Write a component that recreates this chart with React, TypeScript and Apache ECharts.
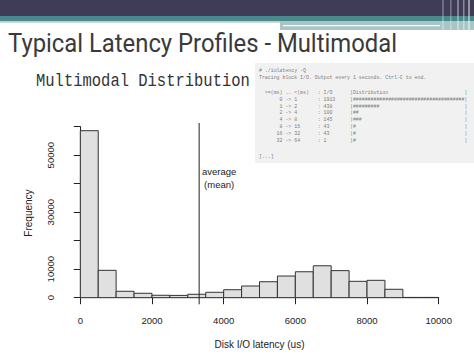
import React, { useEffect, useRef } from "react";
import * as echarts from "echarts";

// ---- histogram data (Disk I/O latency, us) ----
const binStarts = [0, 500, 1000, 1500, 2000, 2500, 3000, 3500, 4000, 4500, 5000, 5500, 6000, 6500, 7000, 7500, 8000, 8500, 9000, 9500];
const binEnds = [500, 1000, 1500, 2000, 2500, 3000, 3500, 4000, 4500, 5000, 5500, 6000, 6500, 7000, 7500, 8000, 8500, 9000, 9500, 10000];
const frequencies = [58600, 9600, 2250, 1550, 850, 800, 1200, 1900, 2800, 4100, 5600, 7600, 9100, 11200, 9500, 5750, 6100, 2950, 100, 100];
const meanLatency = 3316;
const yPlotTop = 61300; // upper edge of the plot region (frequency units)
const yHiddenTickLabels = [20000, 40000, 60000];

// ---- texts ----
const titleText = "Typical Latency Profiles - Multimodal";
const subtitleText = "Multimodal Distribution";
const xAxisTitle = "Disk I/O latency (us)";
const yAxisTitle = "Frequency";
const meanLabel = ["average", "(mean)"];

// ---- iolatency terminal output ----
const termCommand = "# ./iolatency -Q";
const termInfo = "Tracing block I/O. Output every 1 seconds. Ctrl-C to end.";
const termHeader = "  >=(ms) .. <(ms)   : I/O      |Distribution                          |";
const ioLowMs = [0, 1, 2, 4, 8, 16, 32];
const ioHighMs = [1, 2, 4, 8, 16, 32, 64];
const ioCounts = [1913, 438, 100, 145, 43, 43, 1];
const ioHashes = [38, 9, 2, 3, 1, 1, 1];
const termEllipsis = "[...]";

const X_AXIS_OFFSET = 6.6;
const Y_AXIS_OFFSET = 14;
const AXIS_FONT = '9.5px "Liberation Sans", Arial, sans-serif';

function measure(text: string, font: string): number {
  const c = document.createElement("canvas");
  const ctx = c.getContext("2d");
  if (!ctx) return 1;
  ctx.font = font;
  return ctx.measureText(text).width || 1;
}

const nb = (s: string) => s.replace(/ /g, "\u00a0");

export default function App() {
  const ref = useRef<HTMLDivElement>(null);
  useEffect(() => {
    document.body.style.margin = "0";
    if (!ref.current) return;
    const chart = echarts.init(ref.current, undefined, { renderer: "svg" });

    const histData = binStarts.map((s, i) => [s, binEnds[i], frequencies[i]]);

    const titleFont = '26px Roboto, "Open Sans", sans-serif';
    const titleScale = 389 / measure(titleText, titleFont);
    const subFont = '19px "Liberation Mono", monospace';
    const subScale = 214 / measure(subtitleText, subFont);

    const termFont = '4.9px "Liberation Mono", monospace';
    const termLines: string[] = ioLowMs.map(
      (lo, i) =>
        String(lo).padStart(8) +
        " -> " +
        String(ioHighMs[i]).padEnd(8) +
        ": " +
        String(ioCounts[i]).padEnd(9) +
        "|" +
        "#".repeat(ioHashes[i]).padEnd(38) +
        "|"
    );

    const termTexts: any[] = [
      { t: termCommand, y: 70 },
      { t: termInfo, y: 77 },
      { t: termHeader, y: 92 },
      ...termLines.map((t, i) => ({ t, y: 99.2 + i * 6.8 })),
      { t: termEllipsis, y: 156 },
    ].map((o) => ({
      type: "text",
      x: 259,
      y: o.y,
      style: { text: nb(o.t), font: termFont, fill: "#7c7c7c", verticalAlign: "middle" },
    }));

    const graphic: any[] = [
      { type: "rect", shape: { x: 0, y: 0, width: 474, height: 16 }, style: { fill: "#3e3c56" } },
      { type: "rect", shape: { x: 0, y: 16, width: 474, height: 5.5 }, style: { fill: "#4a8a8c" } },
      { type: "rect", shape: { x: 0, y: 21.5, width: 280, height: 1.5 }, style: { fill: "#c6dcdc" } },
      { type: "rect", shape: { x: 280, y: 21.5, width: 194, height: 8.5 }, style: { fill: "#a9c6c7" } },
      { type: "rect", shape: { x: 283, y: 25, width: 157, height: 1.2 }, style: { fill: "#ffffff" } },
      { type: "rect", shape: { x: 442, y: 0, width: 2, height: 30 }, style: { fill: "rgba(255,255,255,0.25)" } },
      { type: "rect", shape: { x: 450, y: 0, width: 1.5, height: 30 }, style: { fill: "rgba(255,255,255,0.3)" } },
      { type: "rect", shape: { x: 457, y: 0, width: 2, height: 30 }, style: { fill: "rgba(255,255,255,0.35)" } },
      { type: "rect", shape: { x: 463, y: 0, width: 1.5, height: 30 }, style: { fill: "rgba(255,255,255,0.4)" } },
      { type: "rect", shape: { x: 468, y: 0, width: 2, height: 30 }, style: { fill: "rgba(255,255,255,0.45)" } },
      {
        type: "text",
        x: 8,
        y: 43.5,
        scaleX: titleScale,
        style: { text: titleText, font: titleFont, fill: "#3a3a3a", verticalAlign: "middle" },
      },
      {
        type: "text",
        x: 36,
        y: 81,
        scaleX: subScale,
        style: { text: subtitleText, font: subFont, fill: "#333333", verticalAlign: "middle" },
      },
      { type: "rect", shape: { x: 255, y: 63, width: 219, height: 100 }, style: { fill: "#f1f1f1" } },
      ...termTexts,
      {
        type: "text",
        x: 28,
        y: 213,
        rotation: Math.PI / 2,
        style: { text: yAxisTitle, font: '10px "Liberation Sans", Arial, sans-serif', fill: "#222", align: "center", verticalAlign: "middle" },
      },
    ];

    chart.setOption({
      animation: false,
      backgroundColor: "#ffffff",
      grid: { left: 80.3, right: 35.3, top: 126.7, bottom: 57.3 },
      xAxis: {
        type: "value",
        min: 0,
        max: 10000,
        interval: 2000,
        offset: X_AXIS_OFFSET,
        name: xAxisTitle,
        nameLocation: "middle",
        nameGap: 35,
        nameTextStyle: { color: "#222", fontSize: 10, fontFamily: '"Liberation Sans", Arial' },
        axisLine: { show: true, lineStyle: { color: "#222", width: 1 } },
        axisTick: { show: true, length: 6.5, lineStyle: { color: "#222" } },
        axisLabel: {
          margin: 11,
          color: "#222",
          fontSize: 9.5,
          fontFamily: '"Liberation Sans", Arial',
          formatter: (v: number) => String(v),
        },
        splitLine: { show: false },
      },
      yAxis: {
        type: "value",
        min: 0,
        max: 60000,
        interval: 10000,
        offset: Y_AXIS_OFFSET,
        axisLine: { show: true, lineStyle: { color: "#222", width: 1 } },
        axisTick: { show: true, length: 6.5, lineStyle: { color: "#222" } },
        axisLabel: {
          rotate: 90,
          margin: 11,
          align: "center",
          verticalAlign: "bottom",
          color: "#222",
          fontSize: 9.5,
          fontFamily: '"Liberation Sans", Arial',
          formatter: (v: number) => (yHiddenTickLabels.includes(v) ? "" : String(v)),
        },
        splitLine: { show: false },
      },
      graphic,
      series: [
        {
          type: "custom",
          clip: false,
          encode: { x: [0, 1], y: 2 },
          data: histData,
          renderItem: (params: any, api: any) => {
            const p0 = api.coord([api.value(0), 0]);
            const p1 = api.coord([api.value(1), api.value(2)]);
            return {
              type: "rect",
              shape: { x: p0[0], y: p1[1], width: p1[0] - p0[0], height: p0[1] - p1[1] },
              style: { fill: "#e0e0e0", stroke: "#333333", lineWidth: 1 },
            };
          },
        },
        {
          type: "custom",
          clip: false,
          encode: { x: 0, y: 1 },
          data: [[meanLatency, 0]],
          renderItem: (params: any, api: any) => {
            const top = api.coord([api.value(0), yPlotTop]);
            const base = api.coord([api.value(0), 0]);
            return {
              type: "group",
              children: [
                {
                  type: "line",
                  shape: { x1: top[0], y1: top[1], x2: base[0], y2: base[1] + X_AXIS_OFFSET },
                  style: { stroke: "#222", lineWidth: 1 },
                },
                {
                  type: "text",
                  x: top[0] + 20,
                  y: top[1] + 55,
                  style: {
                    text: meanLabel.join("\n"),
                    font: AXIS_FONT,
                    fill: "#222",
                    align: "center",
                    verticalAlign: "middle",
                    lineHeight: 12.3,
                  },
                },
              ],
            };
          },
        },
      ],
    });
    return () => chart.dispose();
  }, []);
  return <div ref={ref} style={{ width: 474, height: 355, position: "absolute", left: 0, top: 0 }} />;
}
